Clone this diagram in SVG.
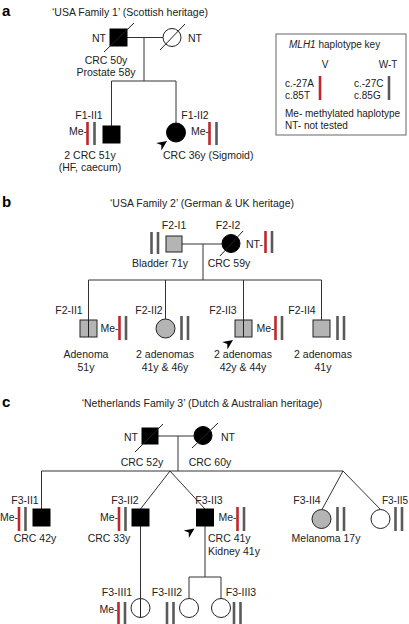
<svg xmlns="http://www.w3.org/2000/svg" xmlns:xlink="http://www.w3.org/1999/xlink" width="409" height="624" viewBox="0 0 409 624">
<style>
text{font-family:"Liberation Sans",Arial,Helvetica,sans-serif;font-size:10.5px;fill:#222}
.m{text-anchor:middle}
.e{text-anchor:end}
.sm{font-size:10px}
.pl{font-size:15px;font-weight:bold;fill:#000}
.ln{stroke:#333;stroke-width:1;fill:none}
.aff{fill:#000;stroke:#000;stroke-width:1}
.gry{fill:#b4b4b4;stroke:#222;stroke-width:1}
.un{fill:#fff;stroke:#222;stroke-width:1}
.r{stroke:#c0272d;stroke-width:2.6}
.g{stroke:#5a5a5a;stroke-width:2.6}
.k{stroke:#222;stroke-width:1}
</style>
<defs>
<polygon id="arr" points="0,0 -10,-4.5 -7,0 -10,4.5" fill="#000"/>
</defs>
<rect width="409" height="624" fill="#fff"/>

<!-- Panel a -->
<text class="pl" x="2" y="16">a</text>
<text class="m" x="130" y="16">‘USA Family 1’ (Scottish heritage)</text>

<g id="key">
<rect x="276" y="34" width="130" height="101" fill="#fff" stroke="#666" stroke-width="1"/>
<text class="sm" x="289" y="48"><tspan font-style="italic">MLH1</tspan> haplotype key</text>
<text class="sm m" x="325" y="68">V</text>
<text class="sm m" x="388" y="68">W-T</text>
<text class="sm" x="285" y="87">c.-27A</text>
<text class="sm" x="285" y="99">c.85T</text>
<line class="r" x1="320" y1="76" x2="320" y2="100"/>
<text class="sm" x="354" y="87">c.-27C</text>
<text class="sm" x="354" y="99">c.85G</text>
<line class="g" x1="389" y1="76" x2="389" y2="100"/>
<text class="sm" x="285" y="117">Me- methylated haplotype</text>
<text class="sm" x="285" y="129">NT- not tested</text>
</g>

<g id="connectors">
<line class="ln" x1="127" y1="37.5" x2="163" y2="37.5"/>
<line class="ln" x1="144" y1="37.5" x2="144" y2="81"/>
<line class="ln" x1="111.5" y1="81" x2="176" y2="81"/>
<line class="ln" x1="111.5" y1="81" x2="111.5" y2="126"/>
<line class="ln" x1="176" y1="81" x2="176" y2="123"/>

<line class="ln" x1="182" y1="244" x2="222" y2="244"/>
<line class="ln" x1="203" y1="244" x2="203" y2="280"/>
<line class="ln" x1="88.5" y1="280" x2="321.5" y2="280"/>
<line class="ln" x1="88.5" y1="280" x2="88.5" y2="320"/>
<line class="ln" x1="165.5" y1="280" x2="165.5" y2="319"/>
<line class="ln" x1="243.5" y1="280" x2="243.5" y2="320"/>
<line class="ln" x1="321.5" y1="280" x2="321.5" y2="320"/>

<line class="ln" x1="158" y1="436" x2="194" y2="436"/>
<line class="ln" x1="178" y1="436" x2="178" y2="471"/>
<line class="ln" x1="41.5" y1="471" x2="343" y2="471"/>
<line class="ln" x1="41.5" y1="471" x2="41.5" y2="509"/>
<line class="ln" x1="170" y1="471" x2="140.5" y2="509"/>
<line class="ln" x1="170" y1="471" x2="205" y2="509"/>
<line class="ln" x1="343" y1="471" x2="322" y2="509.5"/>
<line class="ln" x1="343" y1="471" x2="380.5" y2="509.5"/>
<line class="ln" x1="140.5" y1="526" x2="140.5" y2="598.5"/>
<line class="ln" x1="205" y1="526" x2="205" y2="577"/>
<line class="ln" x1="189" y1="577" x2="221" y2="577"/>
<line class="ln" x1="189" y1="577" x2="189" y2="598.5"/>
<line class="ln" x1="221" y1="577" x2="221" y2="598.5"/>
</g>

<g id="F1-I1">
<rect class="aff" x="110" y="29" width="17" height="17"/>
<line class="k" x1="104" y1="52" x2="134" y2="23"/>
<text class="e" x="106" y="42">NT</text>
<text class="m" x="106" y="64">CRC 50y</text>
<text class="m" x="106" y="76">Prostate 58y</text>
</g>
<g id="F1-I2">
<circle class="un" cx="172" cy="37.5" r="9"/>
<line class="k" x1="160" y1="50" x2="185" y2="24"/>
<text x="188" y="42">NT</text>
</g>
<g id="F1-II1">
<rect class="aff" x="103" y="126" width="17" height="17"/>
<text class="m" x="89" y="119">F1-II1</text>
<text class="e" x="87" y="135">Me-</text>
<line class="r" x1="87.5" y1="122" x2="87.5" y2="145"/>
<line class="g" x1="94.5" y1="122" x2="94.5" y2="145"/>
<text class="m" x="90" y="159">2 CRC 51y</text>
<text class="m" x="90" y="171">(HF, caecum)</text>
</g>
<g id="F1-II2">
<circle class="aff" cx="176" cy="132.5" r="9.5"/>
<text class="m" x="195" y="119">F1-II2</text>
<text class="e" x="209" y="135">Me-</text>
<line class="r" x1="209.5" y1="122" x2="209.5" y2="145"/>
<line class="g" x1="216.5" y1="122" x2="216.5" y2="145"/>
<use xlink:href="#arr" transform="translate(167,141) rotate(-35)"/>
<text x="163" y="159">CRC 36y (Sigmoid)</text>
</g>

<!-- Panel b -->
<text class="pl" x="2" y="207">b</text>
<text class="m" x="202" y="207">‘USA Family 2’ (German &amp; UK heritage)</text>

<g id="F2-I1">
<rect class="gry" x="166" y="236" width="16" height="16"/>
<line class="g" x1="151.5" y1="232" x2="151.5" y2="254"/>
<line class="g" x1="158" y1="232" x2="158" y2="254"/>
<text class="m" x="174" y="229">F2-I1</text>
<text class="m" x="160" y="267">Bladder 71y</text>
</g>
<g id="F2-I2">
<circle class="aff" cx="231" cy="243.5" r="9"/>
<line class="k" x1="220" y1="256" x2="243" y2="231"/>
<text class="m" x="228" y="229">F2-I2</text>
<text x="246" y="248">NT-</text>
<line class="r" x1="265.5" y1="231" x2="265.5" y2="253"/>
<line class="g" x1="272" y1="231" x2="272" y2="253"/>
<text class="m" x="229" y="267">CRC 59y</text>
</g>
<g id="F2-II1">
<rect class="gry" x="80" y="320" width="17" height="17"/>
<line class="k" x1="88.5" y1="320" x2="88.5" y2="337"/>
<text class="m" x="69" y="314">F2-II1</text>
<text class="e" x="118.5" y="332">Me-</text>
<line class="r" x1="119.5" y1="316" x2="119.5" y2="340"/>
<line class="g" x1="126" y1="316" x2="126" y2="340"/>
<text class="m" x="86" y="358">Adenoma</text>
<text class="m" x="86" y="371">51y</text>
</g>
<g id="F2-II2">
<circle class="gry" cx="165.5" cy="328.5" r="9.5"/>
<text class="m" x="149" y="314">F2-II2</text>
<line class="g" x1="181.5" y1="316" x2="181.5" y2="340"/>
<line class="g" x1="188" y1="316" x2="188" y2="340"/>
<text class="m" x="165" y="358">2 adenomas</text>
<text class="m" x="165" y="371">41y &amp; 46y</text>
</g>
<g id="F2-II3">
<rect class="gry" x="235" y="320" width="17" height="17"/>
<line class="k" x1="243.5" y1="320" x2="243.5" y2="337"/>
<text class="m" x="223" y="314">F2-II3</text>
<text class="e" x="274.5" y="332">Me-</text>
<line class="r" x1="275.5" y1="316" x2="275.5" y2="340"/>
<line class="g" x1="282" y1="316" x2="282" y2="340"/>
<use xlink:href="#arr" transform="translate(233,340) rotate(-35)"/>
<text class="m" x="243" y="358">2 adenomas</text>
<text class="m" x="243" y="371">42y &amp; 44y</text>
</g>
<g id="F2-II4">
<rect class="gry" x="313" y="320" width="17" height="17"/>
<text class="m" x="302" y="314">F2-II4</text>
<line class="g" x1="337.5" y1="316" x2="337.5" y2="340"/>
<line class="g" x1="344" y1="316" x2="344" y2="340"/>
<text class="m" x="323" y="358">2 adenomas</text>
<text class="m" x="323" y="371">41y</text>
</g>

<!-- Panel c -->
<text class="pl" x="2" y="407">c</text>
<text class="m" x="202" y="407">‘Netherlands Family 3’ (Dutch &amp; Australian heritage)</text>

<g id="F3-I1">
<rect class="aff" x="142" y="428" width="16" height="16"/>
<line class="k" x1="135" y1="452" x2="163" y2="424"/>
<text class="e" x="138" y="441">NT</text>
<text class="m" x="142" y="466">CRC 52y</text>
</g>
<g id="F3-I2">
<circle class="aff" cx="203" cy="435.5" r="9"/>
<line class="k" x1="192" y1="448" x2="218" y2="423"/>
<text x="221" y="441">NT</text>
<text class="m" x="210" y="466">CRC 60y</text>
</g>
<g id="F3-II1">
<rect class="aff" x="33" y="509" width="17" height="17"/>
<text class="m" x="25" y="504">F3-II1</text>
<text class="e" x="18" y="521">Me-</text>
<line class="r" x1="19" y1="507" x2="19" y2="531"/>
<line class="g" x1="25.5" y1="507" x2="25.5" y2="531"/>
<text class="m" x="35" y="542">CRC 42y</text>
</g>
<g id="F3-II2">
<rect class="aff" x="132" y="509" width="17" height="17"/>
<text class="m" x="125" y="504">F3-II2</text>
<text class="e" x="118" y="521">Me-</text>
<line class="r" x1="119" y1="507" x2="119" y2="531"/>
<line class="g" x1="125.5" y1="507" x2="125.5" y2="531"/>
<text class="m" x="109" y="542">CRC 33y</text>
</g>
<g id="F3-II3">
<rect class="aff" x="196.5" y="509" width="17" height="17"/>
<text class="m" x="209" y="504">F3-II3</text>
<text class="e" x="236.5" y="521">Me-</text>
<line class="r" x1="237.5" y1="507" x2="237.5" y2="531"/>
<line class="g" x1="244" y1="507" x2="244" y2="531"/>
<use xlink:href="#arr" transform="translate(194.5,528.5) rotate(-35)"/>
<text x="208" y="542">CRC 41y</text>
<text x="208" y="555">Kidney 41y</text>
</g>
<g id="F3-II4">
<circle class="gry" cx="321.5" cy="519" r="9.5"/>
<text class="m" x="307" y="504">F3-II4</text>
<line class="g" x1="337.5" y1="507" x2="337.5" y2="531"/>
<line class="g" x1="344" y1="507" x2="344" y2="531"/>
<text class="m" x="326" y="542">Melanoma 17y</text>
</g>
<g id="F3-II5">
<circle class="un" cx="380.5" cy="519" r="9.5"/>
<text class="sm e" x="408" y="504">F3-II5</text>
<line class="g" x1="395.5" y1="507" x2="395.5" y2="531"/>
<line class="g" x1="402" y1="507" x2="402" y2="531"/>
</g>
<g id="F3-III1">
<circle class="un" cx="140.5" cy="608" r="9.5"/>
<line class="k" x1="140.5" y1="598.5" x2="140.5" y2="617.5"/>
<text class="m" x="117" y="596">F3-III1</text>
<text class="e" x="117.5" y="613">Me-</text>
<line class="r" x1="118.5" y1="602" x2="118.5" y2="624"/>
<line class="g" x1="125" y1="602" x2="125" y2="624"/>
</g>
<g id="F3-III2">
<circle class="un" cx="189" cy="608" r="9.5"/>
<text class="m" x="167" y="596">F3-III2</text>
<line class="g" x1="167" y1="602" x2="167" y2="624"/>
<line class="g" x1="173.5" y1="602" x2="173.5" y2="624"/>
</g>
<g id="F3-III3">
<circle class="un" cx="221" cy="608" r="9.5"/>
<text class="m" x="241" y="596">F3-III3</text>
<line class="g" x1="234" y1="602" x2="234" y2="624"/>
<line class="g" x1="240.5" y1="602" x2="240.5" y2="624"/>
</g>
</svg>
